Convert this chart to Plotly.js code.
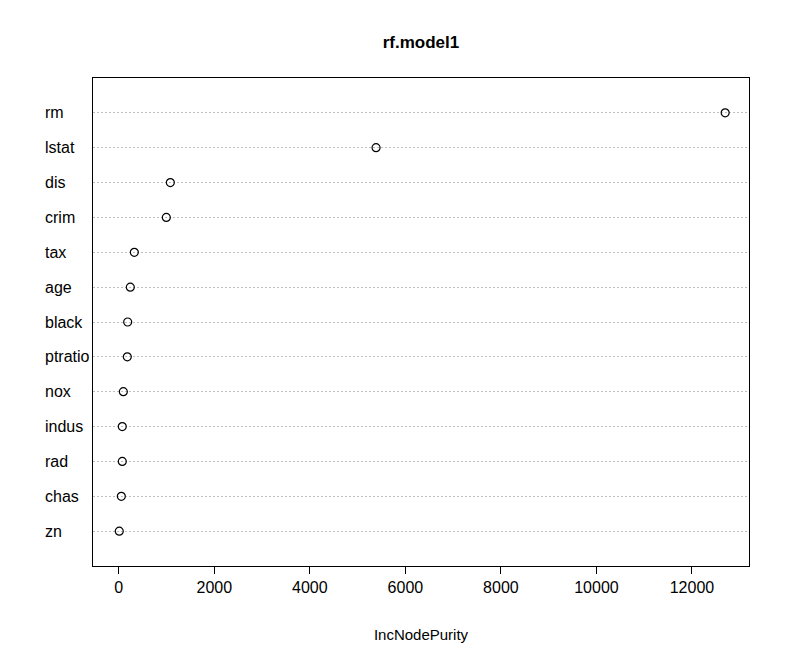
<!DOCTYPE html>
<html>
<head>
<meta charset="utf-8">
<script src="https://cdn.plot.ly/plotly-3.0.1.min.js"></script>
<style>
  html, body { margin: 0; padding: 0; background: #ffffff; }
  #chart { width: 790px; height: 664px; }
</style>
</head>
<body>
<div id="chart"></div>
<script>
// Variable importance of rf.model1 (IncNodePurity), bottom to top
const variables = ["zn", "chas", "rad", "indus", "nox", "ptratio", "black", "age", "tax", "crim", "dis", "lstat", "rm"];
const incNodePurity = [10, 53, 73, 73, 95, 178, 186, 241, 325, 995, 1079, 5386, 12695];
const xTicks = [0, 2000, 4000, 6000, 8000, 10000, 12000];

const FONT = "Liberation Sans, Arial, sans-serif";

const trace = {
  type: "scatter",
  mode: "markers",
  x: incNodePurity,
  y: variables,
  marker: {
    symbol: "circle-open",
    size: 8,
    color: "#000000",
    line: { width: 1.2, color: "#000000" }
  },
  hoverinfo: "x+y",
  showlegend: false
};

// Row labels, left-aligned in the left margin like a dotchart
const labelAnnotations = variables.map(v => ({
  text: v,
  xref: "paper",
  yref: "y",
  x: -50 / 656,
  y: v,
  xanchor: "left",
  yanchor: "middle",
  showarrow: false,
  font: { family: FONT, size: 16, color: "#000000" }
}));

const layout = {
  width: 790,
  height: 664,
  margin: { l: 93, r: 41, t: 78, b: 98 },
  paper_bgcolor: "#ffffff",
  plot_bgcolor: "#ffffff",
  font: { family: FONT, size: 16, color: "#000000" },
  title: {
    text: "<b>rf.model1</b>",
    font: { family: FONT, size: 17, color: "#000000" },
    x: 0.5,
    xref: "paper",
    xanchor: "center",
    y: 1 - 42 / 664,
    yanchor: "middle"
  },
  xaxis: {
    range: [-540, 13194],
    tickvals: xTicks,
    ticktext: xTicks.map(String),
    ticks: "outside",
    ticklen: 7,
    tickwidth: 1,
    tickcolor: "#000000",
    showgrid: false,
    zeroline: false,
    showline: true,
    mirror: true,
    linecolor: "#000000",
    linewidth: 1,
    tickfont: { family: FONT, size: 16, color: "#000000" },
    title: {
      text: "IncNodePurity",
      font: { family: FONT, size: 15, color: "#000000" },
      standoff: 34
    }
  },
  yaxis: {
    type: "category",
    categoryorder: "array",
    categoryarray: variables,
    range: [-1, variables.length],
    showticklabels: false,
    ticks: "",
    showgrid: true,
    gridcolor: "#bebebe",
    gridwidth: 1,
    griddash: "2px,2px",
    zeroline: false,
    showline: true,
    mirror: true,
    linecolor: "#000000",
    linewidth: 1
  },
  annotations: labelAnnotations
};

Plotly.newPlot("chart", [trace], layout, { staticPlot: true, displayModeBar: false });
</script>
</body>
</html>
